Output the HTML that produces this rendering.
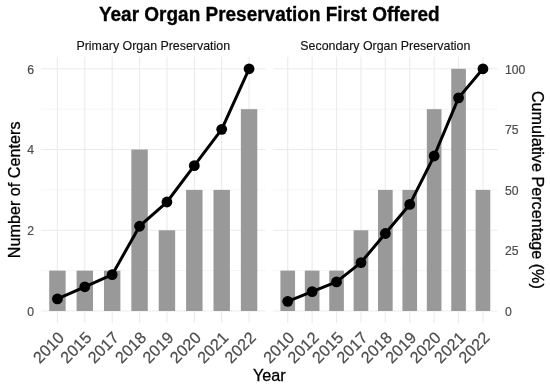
<!DOCTYPE html>
<html><head><meta charset="utf-8"><title>Year Organ Preservation First Offered</title>
<style>html,body{margin:0;padding:0;background:#fff;}body{width:550px;height:388px;overflow:hidden;}svg{display:block;}</style>
</head><body>
<svg width="550" height="388" viewBox="0 0 550 388">
<rect width="550" height="388" fill="#fff"/>
<line x1="41.00" x2="265.50" y1="270.63" y2="270.63" stroke="#EBEBEB" stroke-width="0.55"/>
<line x1="41.00" x2="265.50" y1="189.90" y2="189.90" stroke="#EBEBEB" stroke-width="0.55"/>
<line x1="41.00" x2="265.50" y1="109.17" y2="109.17" stroke="#EBEBEB" stroke-width="0.55"/>
<line x1="41.00" x2="265.50" y1="311.00" y2="311.00" stroke="#EBEBEB" stroke-width="1.1"/>
<line x1="41.00" x2="265.50" y1="230.27" y2="230.27" stroke="#EBEBEB" stroke-width="1.1"/>
<line x1="41.00" x2="265.50" y1="149.53" y2="149.53" stroke="#EBEBEB" stroke-width="1.1"/>
<line x1="41.00" x2="265.50" y1="68.80" y2="68.80" stroke="#EBEBEB" stroke-width="1.1"/>
<line x1="57.43" x2="57.43" y1="56.70" y2="323.10" stroke="#EBEBEB" stroke-width="1.1"/>
<line x1="84.80" x2="84.80" y1="56.70" y2="323.10" stroke="#EBEBEB" stroke-width="1.1"/>
<line x1="112.18" x2="112.18" y1="56.70" y2="323.10" stroke="#EBEBEB" stroke-width="1.1"/>
<line x1="139.56" x2="139.56" y1="56.70" y2="323.10" stroke="#EBEBEB" stroke-width="1.1"/>
<line x1="166.94" x2="166.94" y1="56.70" y2="323.10" stroke="#EBEBEB" stroke-width="1.1"/>
<line x1="194.32" x2="194.32" y1="56.70" y2="323.10" stroke="#EBEBEB" stroke-width="1.1"/>
<line x1="221.70" x2="221.70" y1="56.70" y2="323.10" stroke="#EBEBEB" stroke-width="1.1"/>
<line x1="249.07" x2="249.07" y1="56.70" y2="323.10" stroke="#EBEBEB" stroke-width="1.1"/>
<rect x="49.21" y="270.63" width="16.43" height="40.37" fill="#999999"/>
<rect x="76.59" y="270.63" width="16.43" height="40.37" fill="#999999"/>
<rect x="103.97" y="270.63" width="16.43" height="40.37" fill="#999999"/>
<rect x="131.35" y="149.53" width="16.43" height="161.47" fill="#999999"/>
<rect x="158.73" y="230.27" width="16.43" height="80.73" fill="#999999"/>
<rect x="186.10" y="189.90" width="16.43" height="121.10" fill="#999999"/>
<rect x="213.48" y="189.90" width="16.43" height="121.10" fill="#999999"/>
<rect x="240.86" y="109.17" width="16.43" height="201.83" fill="#999999"/>
<polyline fill="none" stroke="#000" stroke-width="3.00" stroke-linejoin="round" stroke-linecap="butt" points="57.43,298.89 84.80,286.78 112.18,274.67 139.56,226.23 166.94,202.01 194.32,165.68 221.70,129.35 249.07,68.80"/>
<circle cx="57.43" cy="298.89" r="5.4" fill="#000"/>
<circle cx="84.80" cy="286.78" r="5.4" fill="#000"/>
<circle cx="112.18" cy="274.67" r="5.4" fill="#000"/>
<circle cx="139.56" cy="226.23" r="5.4" fill="#000"/>
<circle cx="166.94" cy="202.01" r="5.4" fill="#000"/>
<circle cx="194.32" cy="165.68" r="5.4" fill="#000"/>
<circle cx="221.70" cy="129.35" r="5.4" fill="#000"/>
<circle cx="249.07" cy="68.80" r="5.4" fill="#000"/>
<line x1="273.10" x2="497.60" y1="270.63" y2="270.63" stroke="#EBEBEB" stroke-width="0.55"/>
<line x1="273.10" x2="497.60" y1="189.90" y2="189.90" stroke="#EBEBEB" stroke-width="0.55"/>
<line x1="273.10" x2="497.60" y1="109.17" y2="109.17" stroke="#EBEBEB" stroke-width="0.55"/>
<line x1="273.10" x2="497.60" y1="311.00" y2="311.00" stroke="#EBEBEB" stroke-width="1.1"/>
<line x1="273.10" x2="497.60" y1="230.27" y2="230.27" stroke="#EBEBEB" stroke-width="1.1"/>
<line x1="273.10" x2="497.60" y1="149.53" y2="149.53" stroke="#EBEBEB" stroke-width="1.1"/>
<line x1="273.10" x2="497.60" y1="68.80" y2="68.80" stroke="#EBEBEB" stroke-width="1.1"/>
<line x1="287.74" x2="287.74" y1="56.70" y2="323.10" stroke="#EBEBEB" stroke-width="1.1"/>
<line x1="312.14" x2="312.14" y1="56.70" y2="323.10" stroke="#EBEBEB" stroke-width="1.1"/>
<line x1="336.55" x2="336.55" y1="56.70" y2="323.10" stroke="#EBEBEB" stroke-width="1.1"/>
<line x1="360.95" x2="360.95" y1="56.70" y2="323.10" stroke="#EBEBEB" stroke-width="1.1"/>
<line x1="385.35" x2="385.35" y1="56.70" y2="323.10" stroke="#EBEBEB" stroke-width="1.1"/>
<line x1="409.75" x2="409.75" y1="56.70" y2="323.10" stroke="#EBEBEB" stroke-width="1.1"/>
<line x1="434.15" x2="434.15" y1="56.70" y2="323.10" stroke="#EBEBEB" stroke-width="1.1"/>
<line x1="458.56" x2="458.56" y1="56.70" y2="323.10" stroke="#EBEBEB" stroke-width="1.1"/>
<line x1="482.96" x2="482.96" y1="56.70" y2="323.10" stroke="#EBEBEB" stroke-width="1.1"/>
<rect x="280.42" y="270.63" width="14.64" height="40.37" fill="#999999"/>
<rect x="304.82" y="270.63" width="14.64" height="40.37" fill="#999999"/>
<rect x="329.23" y="270.63" width="14.64" height="40.37" fill="#999999"/>
<rect x="353.63" y="230.27" width="14.64" height="80.73" fill="#999999"/>
<rect x="378.03" y="189.90" width="14.64" height="121.10" fill="#999999"/>
<rect x="402.43" y="189.90" width="14.64" height="121.10" fill="#999999"/>
<rect x="426.83" y="109.17" width="14.64" height="201.83" fill="#999999"/>
<rect x="451.24" y="68.80" width="14.64" height="242.20" fill="#999999"/>
<rect x="475.64" y="189.90" width="14.64" height="121.10" fill="#999999"/>
<polyline fill="none" stroke="#000" stroke-width="3.00" stroke-linejoin="round" stroke-linecap="butt" points="287.74,301.31 312.14,291.62 336.55,281.94 360.95,262.56 385.35,233.50 409.75,204.43 434.15,155.99 458.56,97.86 482.96,68.80"/>
<circle cx="287.74" cy="301.31" r="5.4" fill="#000"/>
<circle cx="312.14" cy="291.62" r="5.4" fill="#000"/>
<circle cx="336.55" cy="281.94" r="5.4" fill="#000"/>
<circle cx="360.95" cy="262.56" r="5.4" fill="#000"/>
<circle cx="385.35" cy="233.50" r="5.4" fill="#000"/>
<circle cx="409.75" cy="204.43" r="5.4" fill="#000"/>
<circle cx="434.15" cy="155.99" r="5.4" fill="#000"/>
<circle cx="458.56" cy="97.86" r="5.4" fill="#000"/>
<circle cx="482.96" cy="68.80" r="5.4" fill="#000"/>
<text transform="translate(269.3,21.0) scale(1,1.07)" font-family="Liberation Sans, Arial, Helvetica, sans-serif" font-weight="bold" font-size="19.0" text-anchor="middle" fill="#000" stroke="#000" stroke-width="0.3">Year Organ Preservation First Offered</text>
<text x="153.25" y="49.5" font-family="Liberation Sans, Arial, Helvetica, sans-serif" font-size="12.4" text-anchor="middle" fill="#111" stroke="#111" stroke-width="0.15">Primary Organ Preservation</text>
<text x="385.35" y="49.5" font-family="Liberation Sans, Arial, Helvetica, sans-serif" font-size="12.4" text-anchor="middle" fill="#111" stroke="#111" stroke-width="0.15">Secondary Organ Preservation</text>
<text x="34.0" y="315.77" font-family="Liberation Sans, Arial, Helvetica, sans-serif" font-size="12.2" text-anchor="end" fill="#4D4D4D" stroke="#4D4D4D" stroke-width="0.2">0</text>
<text x="34.0" y="235.03" font-family="Liberation Sans, Arial, Helvetica, sans-serif" font-size="12.2" text-anchor="end" fill="#4D4D4D" stroke="#4D4D4D" stroke-width="0.2">2</text>
<text x="34.0" y="154.30" font-family="Liberation Sans, Arial, Helvetica, sans-serif" font-size="12.2" text-anchor="end" fill="#4D4D4D" stroke="#4D4D4D" stroke-width="0.2">4</text>
<text x="34.0" y="73.57" font-family="Liberation Sans, Arial, Helvetica, sans-serif" font-size="12.2" text-anchor="end" fill="#4D4D4D" stroke="#4D4D4D" stroke-width="0.2">6</text>
<text x="505.0" y="315.77" font-family="Liberation Sans, Arial, Helvetica, sans-serif" font-size="12.2" text-anchor="start" fill="#4D4D4D" stroke="#4D4D4D" stroke-width="0.2">0</text>
<text x="505.0" y="255.22" font-family="Liberation Sans, Arial, Helvetica, sans-serif" font-size="12.2" text-anchor="start" fill="#4D4D4D" stroke="#4D4D4D" stroke-width="0.2">25</text>
<text x="505.0" y="194.67" font-family="Liberation Sans, Arial, Helvetica, sans-serif" font-size="12.2" text-anchor="start" fill="#4D4D4D" stroke="#4D4D4D" stroke-width="0.2">50</text>
<text x="505.0" y="134.12" font-family="Liberation Sans, Arial, Helvetica, sans-serif" font-size="12.2" text-anchor="start" fill="#4D4D4D" stroke="#4D4D4D" stroke-width="0.2">75</text>
<text x="505.0" y="73.57" font-family="Liberation Sans, Arial, Helvetica, sans-serif" font-size="12.2" text-anchor="start" fill="#4D4D4D" stroke="#4D4D4D" stroke-width="0.2">100</text>
<text transform="translate(65.13,338.70) rotate(-45)" font-family="Liberation Sans, Arial, Helvetica, sans-serif" font-size="16.2" text-anchor="end" fill="#4D4D4D" stroke="#4D4D4D" stroke-width="0.2">2010</text>
<text transform="translate(92.50,338.70) rotate(-45)" font-family="Liberation Sans, Arial, Helvetica, sans-serif" font-size="16.2" text-anchor="end" fill="#4D4D4D" stroke="#4D4D4D" stroke-width="0.2">2015</text>
<text transform="translate(119.88,338.70) rotate(-45)" font-family="Liberation Sans, Arial, Helvetica, sans-serif" font-size="16.2" text-anchor="end" fill="#4D4D4D" stroke="#4D4D4D" stroke-width="0.2">2017</text>
<text transform="translate(147.26,338.70) rotate(-45)" font-family="Liberation Sans, Arial, Helvetica, sans-serif" font-size="16.2" text-anchor="end" fill="#4D4D4D" stroke="#4D4D4D" stroke-width="0.2">2018</text>
<text transform="translate(174.64,338.70) rotate(-45)" font-family="Liberation Sans, Arial, Helvetica, sans-serif" font-size="16.2" text-anchor="end" fill="#4D4D4D" stroke="#4D4D4D" stroke-width="0.2">2019</text>
<text transform="translate(202.02,338.70) rotate(-45)" font-family="Liberation Sans, Arial, Helvetica, sans-serif" font-size="16.2" text-anchor="end" fill="#4D4D4D" stroke="#4D4D4D" stroke-width="0.2">2020</text>
<text transform="translate(229.40,338.70) rotate(-45)" font-family="Liberation Sans, Arial, Helvetica, sans-serif" font-size="16.2" text-anchor="end" fill="#4D4D4D" stroke="#4D4D4D" stroke-width="0.2">2021</text>
<text transform="translate(256.77,338.70) rotate(-45)" font-family="Liberation Sans, Arial, Helvetica, sans-serif" font-size="16.2" text-anchor="end" fill="#4D4D4D" stroke="#4D4D4D" stroke-width="0.2">2022</text>
<text transform="translate(295.44,338.70) rotate(-45)" font-family="Liberation Sans, Arial, Helvetica, sans-serif" font-size="16.2" text-anchor="end" fill="#4D4D4D" stroke="#4D4D4D" stroke-width="0.2">2010</text>
<text transform="translate(319.84,338.70) rotate(-45)" font-family="Liberation Sans, Arial, Helvetica, sans-serif" font-size="16.2" text-anchor="end" fill="#4D4D4D" stroke="#4D4D4D" stroke-width="0.2">2012</text>
<text transform="translate(344.25,338.70) rotate(-45)" font-family="Liberation Sans, Arial, Helvetica, sans-serif" font-size="16.2" text-anchor="end" fill="#4D4D4D" stroke="#4D4D4D" stroke-width="0.2">2015</text>
<text transform="translate(368.65,338.70) rotate(-45)" font-family="Liberation Sans, Arial, Helvetica, sans-serif" font-size="16.2" text-anchor="end" fill="#4D4D4D" stroke="#4D4D4D" stroke-width="0.2">2017</text>
<text transform="translate(393.05,338.70) rotate(-45)" font-family="Liberation Sans, Arial, Helvetica, sans-serif" font-size="16.2" text-anchor="end" fill="#4D4D4D" stroke="#4D4D4D" stroke-width="0.2">2018</text>
<text transform="translate(417.45,338.70) rotate(-45)" font-family="Liberation Sans, Arial, Helvetica, sans-serif" font-size="16.2" text-anchor="end" fill="#4D4D4D" stroke="#4D4D4D" stroke-width="0.2">2019</text>
<text transform="translate(441.85,338.70) rotate(-45)" font-family="Liberation Sans, Arial, Helvetica, sans-serif" font-size="16.2" text-anchor="end" fill="#4D4D4D" stroke="#4D4D4D" stroke-width="0.2">2020</text>
<text transform="translate(466.26,338.70) rotate(-45)" font-family="Liberation Sans, Arial, Helvetica, sans-serif" font-size="16.2" text-anchor="end" fill="#4D4D4D" stroke="#4D4D4D" stroke-width="0.2">2021</text>
<text transform="translate(490.66,338.70) rotate(-45)" font-family="Liberation Sans, Arial, Helvetica, sans-serif" font-size="16.2" text-anchor="end" fill="#4D4D4D" stroke="#4D4D4D" stroke-width="0.2">2022</text>
<text transform="translate(20.0,189.90) rotate(-90)" font-family="Liberation Sans, Arial, Helvetica, sans-serif" font-size="16.2" text-anchor="middle" fill="#000" stroke="#000" stroke-width="0.3">Number of Centers</text>
<text transform="translate(531.5,189.90) rotate(90)" font-family="Liberation Sans, Arial, Helvetica, sans-serif" font-size="16.2" text-anchor="middle" fill="#000" stroke="#000" stroke-width="0.3">Cumulative Percentage (%)</text>
<text x="269.3" y="381.4" font-family="Liberation Sans, Arial, Helvetica, sans-serif" font-size="16.2" text-anchor="middle" fill="#000" stroke="#000" stroke-width="0.3">Year</text>
</svg>
</body></html>
